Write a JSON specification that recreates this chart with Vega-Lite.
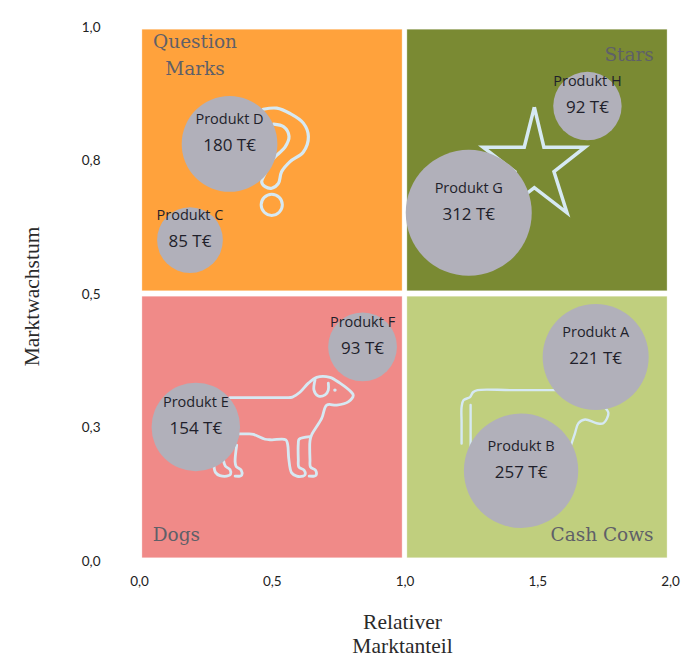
{
  "$schema": "https://vega.github.io/schema/vega-lite/v6.json",
  "width": 531,
  "height": 534,
  "autosize": "none",
  "padding": {"left": 139, "top": 27, "right": 30, "bottom": 109},
  "background": "#FFFFFF",
  "datasets": {
    "quadrants": [
      {"feld": "Question Marks", "x": 0.011, "x2": 0.991, "y": 0.506, "y2": 0.996},
      {"feld": "Stars", "x": 1.009, "x2": 1.989, "y": 0.506, "y2": 0.996},
      {"feld": "Dogs", "x": 0.011, "x2": 0.991, "y": 0.006, "y2": 0.496},
      {"feld": "Cash Cows", "x": 1.009, "x2": 1.989, "y": 0.006, "y2": 0.496}
    ],
    "feldnamen": [
      {"text": "Question", "x": 0.211, "y": 0.972},
      {"text": "Marks", "x": 0.211, "y": 0.922},
      {"text": "Stars", "x": 1.846, "y": 0.948},
      {"text": "Dogs", "x": 0.141, "y": 0.049},
      {"text": "Cash Cows", "x": 1.744, "y": 0.049}
    ],
    "star": [
      {"n": 1, "x": 1.489, "y": 0.850},
      {"n": 2, "x": 1.525, "y": 0.775},
      {"n": 3, "x": 1.680, "y": 0.775},
      {"n": 4, "x": 1.563, "y": 0.729},
      {"n": 5, "x": 1.612, "y": 0.652},
      {"n": 6, "x": 1.489, "y": 0.699},
      {"n": 7, "x": 1.366, "y": 0.652},
      {"n": 8, "x": 1.416, "y": 0.729},
      {"n": 9, "x": 1.296, "y": 0.775},
      {"n": 10, "x": 1.451, "y": 0.775},
      {"n": 11, "x": 1.489, "y": 0.850}
    ],
    "outlines": [
      {"icon": "question", "part": "q", "n": 1, "x": 0.468, "y": 0.846},
      {"icon": "question", "part": "q", "n": 2, "x": 0.519, "y": 0.848},
      {"icon": "question", "part": "q", "n": 3, "x": 0.569, "y": 0.838},
      {"icon": "question", "part": "q", "n": 4, "x": 0.619, "y": 0.820},
      {"icon": "question", "part": "q", "n": 5, "x": 0.638, "y": 0.795},
      {"icon": "question", "part": "q", "n": 6, "x": 0.619, "y": 0.766},
      {"icon": "question", "part": "q", "n": 7, "x": 0.569, "y": 0.748},
      {"icon": "question", "part": "q", "n": 8, "x": 0.537, "y": 0.729},
      {"icon": "question", "part": "q", "n": 9, "x": 0.525, "y": 0.707},
      {"icon": "question", "part": "q", "n": 10, "x": 0.500, "y": 0.698},
      {"icon": "question", "part": "q", "n": 11, "x": 0.475, "y": 0.701},
      {"icon": "question", "part": "q", "n": 12, "x": 0.462, "y": 0.710},
      {"icon": "question", "part": "q", "n": 13, "x": 0.475, "y": 0.726},
      {"icon": "question", "part": "q", "n": 14, "x": 0.486, "y": 0.742},
      {"icon": "question", "part": "q", "n": 15, "x": 0.519, "y": 0.760},
      {"icon": "question", "part": "q", "n": 16, "x": 0.550, "y": 0.775},
      {"icon": "question", "part": "q", "n": 17, "x": 0.565, "y": 0.795},
      {"icon": "question", "part": "q", "n": 18, "x": 0.545, "y": 0.813},
      {"icon": "question", "part": "q", "n": 19, "x": 0.507, "y": 0.818},

      {"icon": "dog", "part": "d1", "n": 1, "x": 0.343, "y": 0.306},
      {"icon": "dog", "part": "d1", "n": 2, "x": 0.450, "y": 0.306},
      {"icon": "dog", "part": "d1", "n": 3, "x": 0.555, "y": 0.306},
      {"icon": "dog", "part": "d1", "n": 4, "x": 0.578, "y": 0.307},
      {"icon": "dog", "part": "d1", "n": 5, "x": 0.606, "y": 0.316},
      {"icon": "dog", "part": "d1", "n": 6, "x": 0.638, "y": 0.333},
      {"icon": "dog", "part": "d1", "n": 7, "x": 0.669, "y": 0.344},
      {"icon": "dog", "part": "d1", "n": 8, "x": 0.719, "y": 0.344},
      {"icon": "dog", "part": "d1", "n": 9, "x": 0.757, "y": 0.333},
      {"icon": "dog", "part": "d1", "n": 10, "x": 0.800, "y": 0.316},
      {"icon": "dog", "part": "d1", "n": 11, "x": 0.807, "y": 0.310},
      {"icon": "dog", "part": "d1", "n": 12, "x": 0.788, "y": 0.298},
      {"icon": "dog", "part": "d1", "n": 13, "x": 0.745, "y": 0.292},
      {"icon": "dog", "part": "d1", "n": 14, "x": 0.707, "y": 0.292},
      {"icon": "dog", "part": "d1", "n": 15, "x": 0.688, "y": 0.267},
      {"icon": "dog", "part": "d1", "n": 16, "x": 0.650, "y": 0.236},
      {"icon": "dog", "part": "d1", "n": 17, "x": 0.644, "y": 0.225},
      {"icon": "dog", "part": "d1", "n": 18, "x": 0.644, "y": 0.190},
      {"icon": "dog", "part": "d1", "n": 19, "x": 0.646, "y": 0.176},
      {"icon": "dog", "part": "d1", "n": 20, "x": 0.665, "y": 0.170},
      {"icon": "dog", "part": "d1", "n": 21, "x": 0.667, "y": 0.161},
      {"icon": "dog", "part": "d1", "n": 22, "x": 0.660, "y": 0.159},
      {"icon": "dog", "part": "d1", "n": 23, "x": 0.641, "y": 0.159},

      {"icon": "dog", "part": "d2", "n": 1, "x": 0.644, "y": 0.233},
      {"icon": "dog", "part": "d2", "n": 2, "x": 0.603, "y": 0.228},
      {"icon": "dog", "part": "d2", "n": 3, "x": 0.600, "y": 0.220},
      {"icon": "dog", "part": "d2", "n": 4, "x": 0.600, "y": 0.190},
      {"icon": "dog", "part": "d2", "n": 5, "x": 0.602, "y": 0.176},
      {"icon": "dog", "part": "d2", "n": 6, "x": 0.622, "y": 0.170},
      {"icon": "dog", "part": "d2", "n": 7, "x": 0.625, "y": 0.161},
      {"icon": "dog", "part": "d2", "n": 8, "x": 0.618, "y": 0.159},
      {"icon": "dog", "part": "d2", "n": 9, "x": 0.594, "y": 0.159},
      {"icon": "dog", "part": "d2", "n": 10, "x": 0.575, "y": 0.165},
      {"icon": "dog", "part": "d2", "n": 11, "x": 0.564, "y": 0.192},
      {"icon": "dog", "part": "d2", "n": 12, "x": 0.560, "y": 0.218},
      {"icon": "dog", "part": "d2", "n": 13, "x": 0.553, "y": 0.227},
      {"icon": "dog", "part": "d2", "n": 14, "x": 0.500, "y": 0.227},
      {"icon": "dog", "part": "d2", "n": 15, "x": 0.475, "y": 0.228},
      {"icon": "dog", "part": "d2", "n": 16, "x": 0.431, "y": 0.237},
      {"icon": "dog", "part": "d2", "n": 17, "x": 0.410, "y": 0.238},
      {"icon": "dog", "part": "d2", "n": 18, "x": 0.343, "y": 0.238},

      {"icon": "dog", "part": "d3", "n": 1, "x": 0.368, "y": 0.217},
      {"icon": "dog", "part": "d3", "n": 2, "x": 0.362, "y": 0.186},
      {"icon": "dog", "part": "d3", "n": 3, "x": 0.366, "y": 0.177},
      {"icon": "dog", "part": "d3", "n": 4, "x": 0.385, "y": 0.170},
      {"icon": "dog", "part": "d3", "n": 5, "x": 0.387, "y": 0.161},
      {"icon": "dog", "part": "d3", "n": 6, "x": 0.380, "y": 0.159},
      {"icon": "dog", "part": "d3", "n": 7, "x": 0.362, "y": 0.159},

      {"icon": "dog", "part": "d4", "n": 1, "x": 0.318, "y": 0.189},
      {"icon": "dog", "part": "d4", "n": 2, "x": 0.325, "y": 0.178},
      {"icon": "dog", "part": "d4", "n": 3, "x": 0.343, "y": 0.171},
      {"icon": "dog", "part": "d4", "n": 4, "x": 0.345, "y": 0.163},
      {"icon": "dog", "part": "d4", "n": 5, "x": 0.338, "y": 0.160},
      {"icon": "dog", "part": "d4", "n": 6, "x": 0.305, "y": 0.160},
      {"icon": "dog", "part": "d4", "n": 7, "x": 0.288, "y": 0.166},
      {"icon": "dog", "part": "d4", "n": 8, "x": 0.282, "y": 0.180},

      {"icon": "dog", "part": "d5", "n": 1, "x": 0.663, "y": 0.339},
      {"icon": "dog", "part": "d5", "n": 2, "x": 0.659, "y": 0.320},
      {"icon": "dog", "part": "d5", "n": 3, "x": 0.675, "y": 0.309},
      {"icon": "dog", "part": "d5", "n": 4, "x": 0.701, "y": 0.311},
      {"icon": "dog", "part": "d5", "n": 5, "x": 0.713, "y": 0.320},
      {"icon": "dog", "part": "d5", "n": 6, "x": 0.713, "y": 0.333},

      {"icon": "cow", "part": "c1", "n": 1, "x": 1.573, "y": 0.320},
      {"icon": "cow", "part": "c1", "n": 2, "x": 1.400, "y": 0.320},
      {"icon": "cow", "part": "c1", "n": 3, "x": 1.275, "y": 0.320},
      {"icon": "cow", "part": "c1", "n": 4, "x": 1.258, "y": 0.316},
      {"icon": "cow", "part": "c1", "n": 5, "x": 1.247, "y": 0.307},
      {"icon": "cow", "part": "c1", "n": 6, "x": 1.222, "y": 0.301},
      {"icon": "cow", "part": "c1", "n": 7, "x": 1.215, "y": 0.288},
      {"icon": "cow", "part": "c1", "n": 8, "x": 1.215, "y": 0.260},
      {"icon": "cow", "part": "c1", "n": 9, "x": 1.215, "y": 0.220},

      {"icon": "cow", "part": "c2", "n": 1, "x": 1.249, "y": 0.292},
      {"icon": "cow", "part": "c2", "n": 2, "x": 1.249, "y": 0.208},

      {"icon": "cow", "part": "c3", "n": 1, "x": 1.751, "y": 0.289},
      {"icon": "cow", "part": "c3", "n": 2, "x": 1.768, "y": 0.277},
      {"icon": "cow", "part": "c3", "n": 3, "x": 1.749, "y": 0.258},
      {"icon": "cow", "part": "c3", "n": 4, "x": 1.724, "y": 0.258},
      {"icon": "cow", "part": "c3", "n": 5, "x": 1.680, "y": 0.265},
      {"icon": "cow", "part": "c3", "n": 6, "x": 1.655, "y": 0.258},
      {"icon": "cow", "part": "c3", "n": 7, "x": 1.642, "y": 0.239},
      {"icon": "cow", "part": "c3", "n": 8, "x": 1.623, "y": 0.211}
    ],
    "produkte": [
      {"produkt": "Produkt A", "umsatz": 221, "label": "221 T€", "x": 1.720, "y": 0.382},
      {"produkt": "Produkt B", "umsatz": 257, "label": "257 T€", "x": 1.439, "y": 0.169},
      {"produkt": "Produkt C", "umsatz": 85, "label": "85 T€", "x": 0.192, "y": 0.601},
      {"produkt": "Produkt D", "umsatz": 180, "label": "180 T€", "x": 0.341, "y": 0.781},
      {"produkt": "Produkt E", "umsatz": 154, "label": "154 T€", "x": 0.214, "y": 0.251},
      {"produkt": "Produkt F", "umsatz": 93, "label": "93 T€", "x": 0.842, "y": 0.401},
      {"produkt": "Produkt G", "umsatz": 312, "label": "312 T€", "x": 1.242, "y": 0.652},
      {"produkt": "Produkt H", "umsatz": 92, "label": "92 T€", "x": 1.689, "y": 0.852}
    ]
  },
  "encoding": {
    "x": {
      "field": "x",
      "type": "quantitative",
      "scale": {"domain": [0, 2], "nice": false},
      "axis": {
        "title": ["Relativer", "Marktanteil"],
        "values": [0, 0.5, 1, 1.5, 2],
        "labelExpr": "replace(format(datum.value, '.1f'), '.', ',')",
        "labelFlush": false,
        "labelPadding": 13,
        "titleY": 50,
        "titleX": 263,
        "titleLineHeight": 24
      }
    },
    "y": {
      "field": "y",
      "type": "quantitative",
      "scale": {"domain": [0, 1], "nice": false},
      "axis": {
        "title": "Marktwachstum",
        "values": [0, 0.25, 0.5, 0.75, 1],
        "labelExpr": "replace(format(datum.value, '.1f'), '.', ',')",
        "labelFlush": false,
        "labelPadding": 39,
        "titleX": -96,
        "titleY": 269
      }
    }
  },
  "layer": [
    {
      "data": {"name": "quadrants"},
      "mark": {"type": "rect", "stroke": "#FFFFFF", "strokeOpacity": 0.3, "strokeWidth": 1},
      "encoding": {
        "x2": {"field": "x2"},
        "y2": {"field": "y2"},
        "color": {
          "field": "feld",
          "type": "nominal",
          "legend": null,
          "scale": {
            "domain": ["Question Marks", "Stars", "Dogs", "Cash Cows"],
            "range": ["#FFA23C", "#7A8A33", "#F08A88", "#C0CF7E"]
          }
        }
      }
    },
    {
      "data": {"name": "feldnamen"},
      "mark": {"type": "text", "font": "DejaVu Serif", "fontSize": 18.5, "color": "#5F6068", "baseline": "middle", "align": "center"},
      "encoding": {"text": {"field": "text"}}
    },
    {
      "data": {"name": "star"},
      "mark": {"type": "line", "interpolate": "linear", "color": "#D6E9F3", "strokeWidth": 3.5, "strokeJoin": "miter", "strokeMiterLimit": 10},
      "encoding": {"order": {"field": "n"}}
    },
    {
      "data": {"name": "outlines"},
      "mark": {"type": "line", "interpolate": "catmull-rom", "color": "#D6E9F3", "strokeCap": "round"},
      "encoding": {
        "detail": {"field": "part"},
        "order": {"field": "n"},
        "strokeWidth": {
          "field": "icon",
          "type": "nominal",
          "legend": null,
          "scale": {"domain": ["question", "dog", "cow"], "range": [3.2, 2.4, 4]}
        }
      }
    },
    {
      "data": {"values": [{"x": 0.5, "y": 0.667}]},
      "mark": {"type": "point", "filled": false, "size": 449, "color": "#D6E9F3", "strokeWidth": 3, "opacity": 1}
    },
    {
      "data": {"values": [{"x": 0.738, "y": 0.32}]},
      "mark": {"type": "point", "filled": true, "size": 12, "color": "#D6E9F3", "opacity": 1}
    },
    {
      "data": {"name": "produkte"},
      "mark": {"type": "point", "filled": true, "color": "#B1B0BA", "opacity": 1},
      "encoding": {
        "size": {
          "field": "umsatz",
          "type": "quantitative",
          "legend": null,
          "scale": {"domain": [0, 312], "range": [0, 15876]}
        }
      }
    },
    {
      "data": {"name": "produkte"},
      "mark": {"type": "text", "font": "Open Sans", "fontSize": 14.5, "dy": -24, "color": "#1F1F2B"},
      "encoding": {"text": {"field": "produkt"}}
    },
    {
      "data": {"name": "produkte"},
      "mark": {"type": "text", "font": "Open Sans", "fontSize": 17, "dy": 2, "color": "#1F1F2B"},
      "encoding": {"text": {"field": "label"}}
    }
  ],
  "config": {
    "view": {"stroke": null},
    "axis": {
      "grid": false,
      "ticks": false,
      "domain": false,
      "labelFont": "Lato",
      "labelFontSize": 13.5,
      "labelColor": "#222222",
      "titleFont": "Liberation Serif",
      "titleFontSize": 21.5,
      "titleFontWeight": "normal",
      "titleColor": "#2A2A2A"
    }
  }
}
